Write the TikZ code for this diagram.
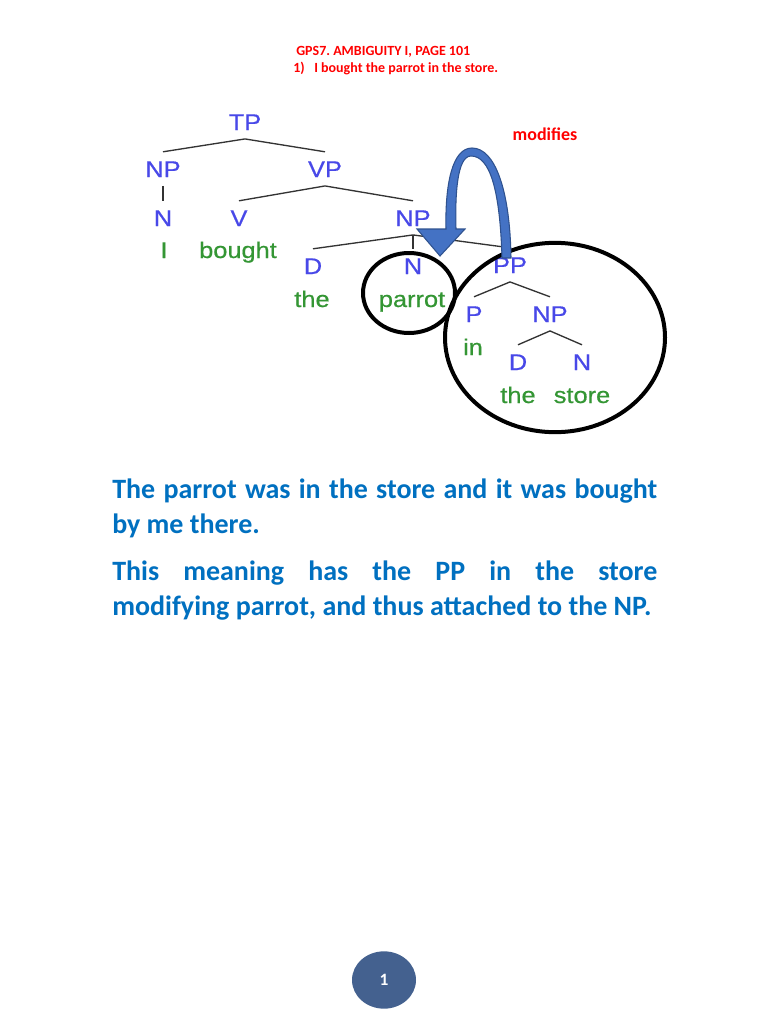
\documentclass[tikz,border=0pt]{standalone}
\usepackage{fontspec}
\setmainfont{Carlito}
\newfontfamily\treefont[FakeStretch=1.12,FakeBold=0.6]{Liberation Sans}
\usetikzlibrary{shapes.geometric}
\definecolor{catblue}{RGB}{72,72,232}
\definecolor{wordgreen}{RGB}{52,150,52}
\definecolor{textblue}{RGB}{0,112,192}
\definecolor{arrowblue}{RGB}{68,114,196}
\definecolor{arrowedge}{RGB}{47,82,143}
\definecolor{pageblue}{RGB}{68,97,143}
\frenchspacing
\tikzset{
  /tikz/.cd,
  cat/.style={font={\treefont\fontsize{17}{17}\selectfont},text=catblue,anchor=base,text height=12.2pt,text depth=0pt,inner xsep=1pt,inner ysep=6.5pt},
  word/.style={font={\treefont\fontsize{17}{17}\selectfont},text=wordgreen,anchor=base,inner sep=1pt},
  branch/.style={draw=black!80,line width=1pt}
}

\begin{document}
\begin{tikzpicture}[x=0.75pt,y=-0.75pt,
                    header/.style={font=\bfseries\fontsize{10.5}{12}\selectfont,text=red,anchor=base west,inner sep=0pt},
                    body/.style={font=\bfseries\fontsize{21}{25}\selectfont,text=textblue,anchor=base west,inner sep=0pt},
                    ring/.style={draw=black,line width=3pt}]
      \fill[white] (0,0) rectangle (768,1024);
      \useasboundingbox (0,0) rectangle (768,1024);

      \node[header] (title) at (296,56) {GPS7. AMBIGUITY I, PAGE 101};
      \node[header] (itemnum) at (293,73) {1)};
      \node[header] (sentence) at (314,73) {I bought the parrot in the store.};

      \node[cat] (tp) at (245,130) {TP};
      \node[cat] (subjnp) at (163,177) {NP};
      \node[cat] (vp) at (325,177) {VP};
      \node[cat] (subjn) at (163,226) {N};
      \node[cat] (verb) at (239,226) {V};
      \node[cat] (objnp) at (413,226) {NP};
      \node[cat] (det) at (313,274) {D};
      \node[cat] (headn) at (413,274) {N};
      \node[cat] (pp) at (510,273) {PP};
      \node[cat] (prep) at (474,322) {P};
      \node[cat] (innp) at (550,322) {NP};
      \node[cat] (det2) at (518,370) {D};
      \node[cat] (noun2) at (582,370) {N};

      \node[word] (w-i) at (164,258) {I};
      \node[word] (w-bought) at (238,258) {bought};
      \node[word] (w-the) at (312,307) {the};
      \node[word] (w-parrot) at (412,307) {parrot};
      \node[word] (w-in) at (473,355) {in};
      \node[word] (w-the2) at (518,403) {the};
      \node[word] (w-store) at (582,403) {store};

      \draw[branch] (subjnp.north) -- (tp.south) -- (vp.north);
      \draw[branch] (subjnp.south) -- (subjn.north);
      \draw[branch] (verb.north) -- (vp.south) -- (objnp.north);
      \draw[branch] (det.north) -- (objnp.south) -- (pp.north);
      \draw[branch] (objnp.south) -- (headn.north);
      \draw[branch] (prep.north) -- (pp.south) -- (innp.north);
      \draw[branch] (det2.north) -- (innp.south) -- (noun2.north);

      \draw[ring] (409,293) ellipse [x radius=34.5pt,y radius=30pt];
      \draw[ring] (555,337.5) ellipse [x radius=82.5pt,y radius=71pt];

      \filldraw[fill=arrowblue,draw=arrowedge,line width=0.8pt]
        (502,258) .. controls (500,190) and (490,156) .. (471,156)
        .. controls (457,156) and (455,195) .. (456,229)
        -- (465,229) -- (440,256) -- (417,229) -- (446,229)
        .. controls (445,185) and (452,148) .. (472,148)
        .. controls (495,148) and (510,190) .. (511,258) -- cycle;
      \node[header,anchor=base,font=\bfseries\fontsize{13.5}{15}\selectfont] (modifies) at (545,140) {modifies};

      \node[body] (line1) at (112,498) {\makebox[408.75pt][s]{The parrot was in the store and it was bought}};
      \node[body] (line2) at (112,533) {by me there.};
      \node[body] (line3) at (112,580) {\makebox[408.75pt][s]{This meaning has the PP in the store}};
      \node[body] (line4) at (112,615) {modifying parrot, and thus attached to the NP.};

      \node[ellipse,fill=pageblue,minimum width=48pt,minimum height=43pt,text=white,font=\bfseries\fontsize{13}{13}\selectfont] (pagenum) at (384,980) {1};
    \end{tikzpicture}
\end{document}
